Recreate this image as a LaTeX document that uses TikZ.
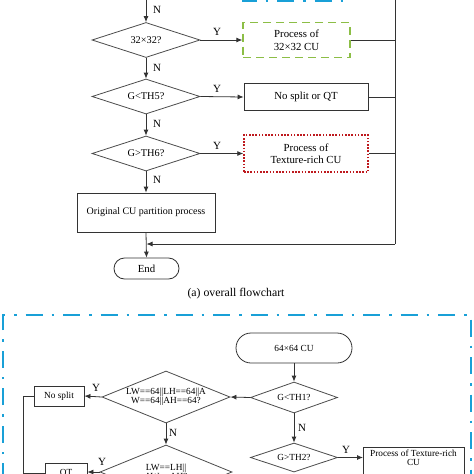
\documentclass[tikz,border=0pt]{standalone}
\usepackage{fontspec}
\setmainfont{Liberation Serif}
\usetikzlibrary{shapes.geometric,arrows.meta}
\definecolor{bluedd}{RGB}{25,160,215}
\definecolor{greendd}{RGB}{140,190,70}
\definecolor{reddd}{RGB}{190,25,30}
\newcommand\ftop{\fontsize{10.8}{12.5}\selectfont}
\newcommand\fdia{\fontsize{10.3}{12}\selectfont}
\newcommand\fbot{\fontsize{9.3}{8.6}\selectfont}
\tikzset{
  ln/.style={draw=black!80, line width=0.8pt},
  arr/.style={ln, -{Latex[length=6pt,width=5pt]}},
  dia/.style={diamond, draw=black!70, line width=0.8pt, inner sep=0pt, aspect=3,
    minimum width=108pt, minimum height=35pt, font=\fdia, align=center},
  box/.style={rectangle, draw=black!80, line width=0.8pt, inner sep=1pt, align=center, font=\ftop},
  term/.style={rectangle, draw=black!80, line width=0.8pt, align=center},
  lab/.style={font=\fontsize{11}{12}\selectfont, inner sep=0pt},
  bluedash/.style={draw=bluedd, line width=2.6pt, dash pattern=on 17pt off 9pt on 2.5pt off 9pt},
}
\begin{document}
\begin{tikzpicture}[x=1pt,y=-1pt]
\useasboundingbox (0,0) rectangle (474,474);
\clip (0,0) rectangle (474,474);
\fill[white] (0,0) rectangle (474,474);

% ---------- top part ----------
\draw[bluedash] (243,-40) rectangle (350,1);

\node[dia] (d32) at (146,40) {32×32?};
\node[box, draw=greendd, line width=1.3pt, dash pattern=on 8pt off 5pt,
      minimum width=107pt, minimum height=35pt] (p32) at (296.5,40) {Process of\\32×32 CU};
\node[dia] (d5) at (146,96.5) {G<TH5?};
\node[box, minimum width=124pt, minimum height=27pt] (ns) at (306,97) {No split or QT};
\node[dia] (d6) at (146,153.5) {G>TH6?};
\node[box, draw=reddd, line width=1.4pt, dash pattern=on 1.6pt off 1.6pt,
      minimum width=124pt, minimum height=37pt] (ptr) at (306,153.5) {Process of\\Texture-rich CU};
\node[box, font=\fontsize{10}{12}\selectfont, minimum width=138pt, minimum height=39pt] (orig) at (146,212.5) {Original CU partition process};
\node[term, rounded corners=10.5pt, minimum width=65pt, minimum height=21pt, font=\ftop] (end) at (146.5,268.5) {End};

\coordinate (top) at (146,-5);
\coordinate (r0) at (395,-5);
\coordinate (r1) at (395,244);
\coordinate (m) at (146.5,244);

\draw[arr] (top) -- (d32.north);
\draw[arr] (d32.east) -- (p32.west);
\draw[arr] (d32.south) -- (d5.north);
\draw[arr] (d5.east) -- (ns.west);
\draw[arr] (d5.south) -- (d6.north);
\draw[arr] (d6.east) -- (ptr.west);
\draw[arr] (d6.south) -- (orig.north);
\draw[arr] (orig.south) -- (end.north);
\draw[ln] (r0) -- (r1);
\draw[arr] (r1) -- (m);
\draw[ln] (p32.east) -- (p32.east -| r0);
\draw[ln] (ns.east) -- (ns.east -| r0);
\draw[ln] (ptr.east) -- (ptr.east -| r0);

\node[lab] (n0) at (157,10) {N};
\node[lab] (y1) at (217,32) {Y};
\node[lab] (n1) at (157,68) {N};
\node[lab] (y2) at (217,89) {Y};
\node[lab] (n2) at (157,124) {N};
\node[lab] (y3) at (217,146) {Y};
\node[lab] (n3) at (157,180) {N};

\node[font=\fontsize{11.8}{13}\selectfont] (cap) at (236,294) {(a) overall flowchart};

% ---------- bottom part ----------
\draw[bluedash] (3,480) -- (3,315) -- (471,315) -- (471,480);

\node[term, rounded corners=15pt, minimum width=116pt, minimum height=30pt, font=\fbot] (c64) at (294,348) {64×64 CU};
\node[dia, font=\fbot, minimum width=87pt, minimum height=31pt] (d1) at (294,397.5) {G<TH1?};
\node[dia, font=\fbot, aspect=2.46, minimum width=128pt, minimum height=52pt] (dL) at (166,397)
  {LW==64||LH==64||A\\W==64||AH==64?};
\node[box, font=\fbot, minimum width=50pt, minimum height=20pt] (nsp) at (59,396) {No split};
\node[dia, font=\fbot, minimum width=87pt, minimum height=29pt] (d2) at (294,457.5) {G>TH2?};
\node[dia, font=\fbot, aspect=2.45, minimum width=132pt, minimum height=54pt] (dE) at (166,472)
  {LW==LH||\\AW==AH?};
\node[box, font=\fbot, minimum width=42pt, minimum height=20pt] (qt) at (66,473) {QT};
\node[box, anchor=north west, minimum width=101pt, minimum height=50pt] (ptr2) at (363,447) {};
\node[font=\fbot, align=center, inner sep=0pt, anchor=north] (ptr2t) at (413.5,450) {Process of Texture-rich\\CU};

\coordinate (l0) at (23,396);
\coordinate (l1) at (23,480);

\draw[arr] (c64.south) -- (d1.north);
\draw[arr] (d1.west) -- (dL.east);
\draw[arr] (dL.west) -- (nsp.east);
\draw[arr] (dL.south) -- (dE.north);
\draw[arr] (d1.south) -- (d2.north);
\draw[arr] (d2.east) -- (d2.east -| ptr2.west);
\draw[arr] (dE.west) -- (dE.west -| qt.east);
\draw[ln] (nsp.west) -- (l0) -- (l1);
\draw[ln] (qt.west) -- (qt.west -| l0);

\node[lab] (y4) at (96,388) {Y};
\node[lab] (n4) at (173,433) {N};
\node[lab] (y5) at (102,462) {Y};
\node[lab] (n5) at (302,428) {N};
\node[lab] (y6) at (346,450) {Y};
\end{tikzpicture}
\end{document}
